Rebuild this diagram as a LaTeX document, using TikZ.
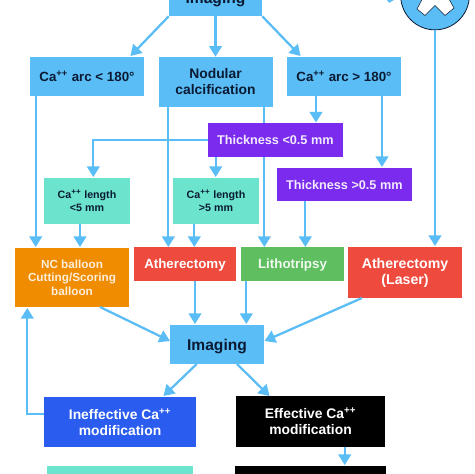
\documentclass[tikz,border=0pt]{standalone}
\usepackage{fontspec}
\setmainfont{Liberation Sans}
\usetikzlibrary{arrows.meta}
\definecolor{skyb}{HTML}{5ABDF5}
\definecolor{purp}{HTML}{7A2BEE}
\definecolor{teal1}{HTML}{6BE3CD}
\definecolor{orng}{HTML}{F08C00}
\definecolor{redd}{HTML}{EE4B3E}
\definecolor{gren}{HTML}{5FBF60}
\definecolor{blu}{HTML}{2A5CF0}
\definecolor{ink}{HTML}{0A1A33}
\tikzset{x=0.75pt,y=-0.75pt,
 boxn/.style={inner sep=0pt,align=center,font=\fontsize{10pt}{12pt}\selectfont\bfseries,text=ink},
 blue box/.style={boxn,fill=skyb},
 big blue box/.style={boxn,fill=skyb,text depth=0pt,font=\fontsize{11.7pt}{14pt}\selectfont\bfseries},
 nod box/.style={boxn,fill=skyb,font=\fontsize{10.4pt}{12pt}\selectfont\bfseries},
 purple box/.style={boxn,fill=purp,text=white!90!purp,font=\fontsize{9.5pt}{11pt}\selectfont\bfseries},
 teal box/.style={boxn,fill=teal1,font=\fontsize{8pt}{10.2pt}\selectfont\bfseries},
 orange box/.style={boxn,fill=orng,text=white!85!orng,font=\fontsize{8.8pt}{10.2pt}\selectfont\bfseries},
 red box/.style={boxn,fill=redd,text=white,text depth=0pt,font=\fontsize{10pt}{12pt}\selectfont\bfseries},
 laser box/.style={boxn,fill=redd,text=white,font=\fontsize{10.6pt}{12pt}\selectfont\bfseries},
 green box/.style={boxn,fill=gren,text=white!90!gren,text depth=0pt,font=\fontsize{10pt}{11pt}\selectfont\bfseries},
 white box/.style={boxn,text=white,font=\fontsize{10.4pt}{12pt}\selectfont\bfseries},
 conn/.style={draw=skyb,line width=1.7pt,-{Triangle[length=8pt,width=9.5pt]}},
}
\newcommand{\rect}[7]{\node[#1,minimum width=#4*0.75pt,minimum height=#5*0.75pt] (#2) at (#6,#7) {#3};}
\begin{document}
\begin{tikzpicture}
\useasboundingbox (0,0) rectangle (474,474);
\fill[white] (0,0) rectangle (474,474);
% connectors that run behind boxes
\coordinate (c1) at (35.7,96);
\draw[conn] (168.3,107) coordinate (nl) -- (168.3,247);
\draw[conn] (264.3,107) coordinate (nr) -- (264.3,247);
% boxes: style,name,text,w,h,cx,cy
\rect{big blue box}{top}{Imaging}{93}{36}{215.5}{-2}
\rect{blue box}{arcl}{Ca\textsuperscript{++} arc < 180°}{114}{39}{87}{76.5}
\rect{nod box}{nod}{Nodular\\calcification}{114}{50}{215.5}{82}
\rect{blue box}{arcg}{Ca\textsuperscript{++} arc > 180°}{114}{39}{344}{76.5}
\rect{purple box}{thl}{Thickness <0.5 mm}{134.5}{33}{275.3}{140}
\rect{purple box}{thg}{Thickness >0.5 mm}{134.5}{33}{344.3}{184.5}
\rect{teal box}{lenl}{Ca\textsuperscript{++} length\\<5 mm}{86}{46}{87}{201}
\rect{teal box}{leng}{Ca\textsuperscript{++} length\\>5 mm}{86}{46}{216}{201}
\rect{orange box}{nc}{NC balloon\\Cutting/Scoring\\balloon}{114.5}{59.5}{72}{277.5}
\rect{red box}{ath}{Atherectomy}{102}{33.5}{185}{263.8}
\rect{green box}{lith}{Lithotripsy}{102.5}{33.5}{292.5}{263.8}
\rect{laser box}{las}{Atherectomy\\(Laser)}{114}{51}{405}{272.5}
\rect{big blue box}{img}{Imaging}{93.5}{39}{217}{344.5}
\rect{boxn,fill=blu,white box}{ineff}{Ineffective Ca\textsuperscript{++}\\modification}{151.4}{50}{120}{422}
\rect{boxn,fill=black,white box}{eff}{Effective Ca\textsuperscript{++}\\modification}{149.6}{51}{310.5}{421.5}
\rect{boxn,fill=teal1}{bl}{}{146}{20}{120}{476}
\rect{boxn,fill=black}{br}{}{151.6}{20}{310.5}{476}
% close circle
\node[circle,fill=skyb,draw=ink,line width=0.6pt,minimum size=51.5pt,inner sep=0pt] (cross) at (435,-4.5) {};
\draw[draw=ink,line width=0.4pt,fill=white]
 (427,-10) -- (417,9) -- (425,15.5) -- (435,5.5) -- (445,15.5) -- (454,8) -- (444,-10) -- cycle;
\fill[skyb] (387,0) -- (394,0) -- (389,2.8) -- cycle;
% connectors
\draw[conn] (top.south west) -- (130.5,56);
\draw[conn] (top.south) -- (nod.north);
\draw[conn] (top.south east) -- (300.5,56);
\draw[conn] (c1) -- (35.7,247);
\draw[conn] (thl.west) -- (93.3,140) -- (93.3,177);
\draw[conn] (thl.south -| 215.7,0) -- (215.7,177);
\draw[conn] (arcg.south -| 316,0) -- (316,122.5);
\draw[conn] (arcg.south -| 382,0) -- (382,167);
\draw[conn] (thg.south -| 305.3,0) -- (305.3,247);
\draw[conn] (lenl.south -| 80,0) -- (80,247);
\draw[conn] (leng.south -| 194.3,0) -- (194.3,247);
\draw[conn] (cross.south) -- (435,246);
\draw[conn] (ath.south -| 195,0) -- (195,324);
\draw[conn] (lith.south -| 246.3,0) -- (246.3,324);
\draw[conn] (100,307) -- (170,341);
\draw[conn] (362,298) -- (264.5,341);
\draw[conn] (196.7,364) -- (163.5,396);
\draw[conn] (237,364) -- (269.5,396);
\draw[conn] (ineff.west |- 0,414.3) -- (27.3,414.3) -- (27.3,308);
\draw[conn] (eff.south -| 344.7,0) -- (344.7,465);
\end{tikzpicture}
\end{document}
